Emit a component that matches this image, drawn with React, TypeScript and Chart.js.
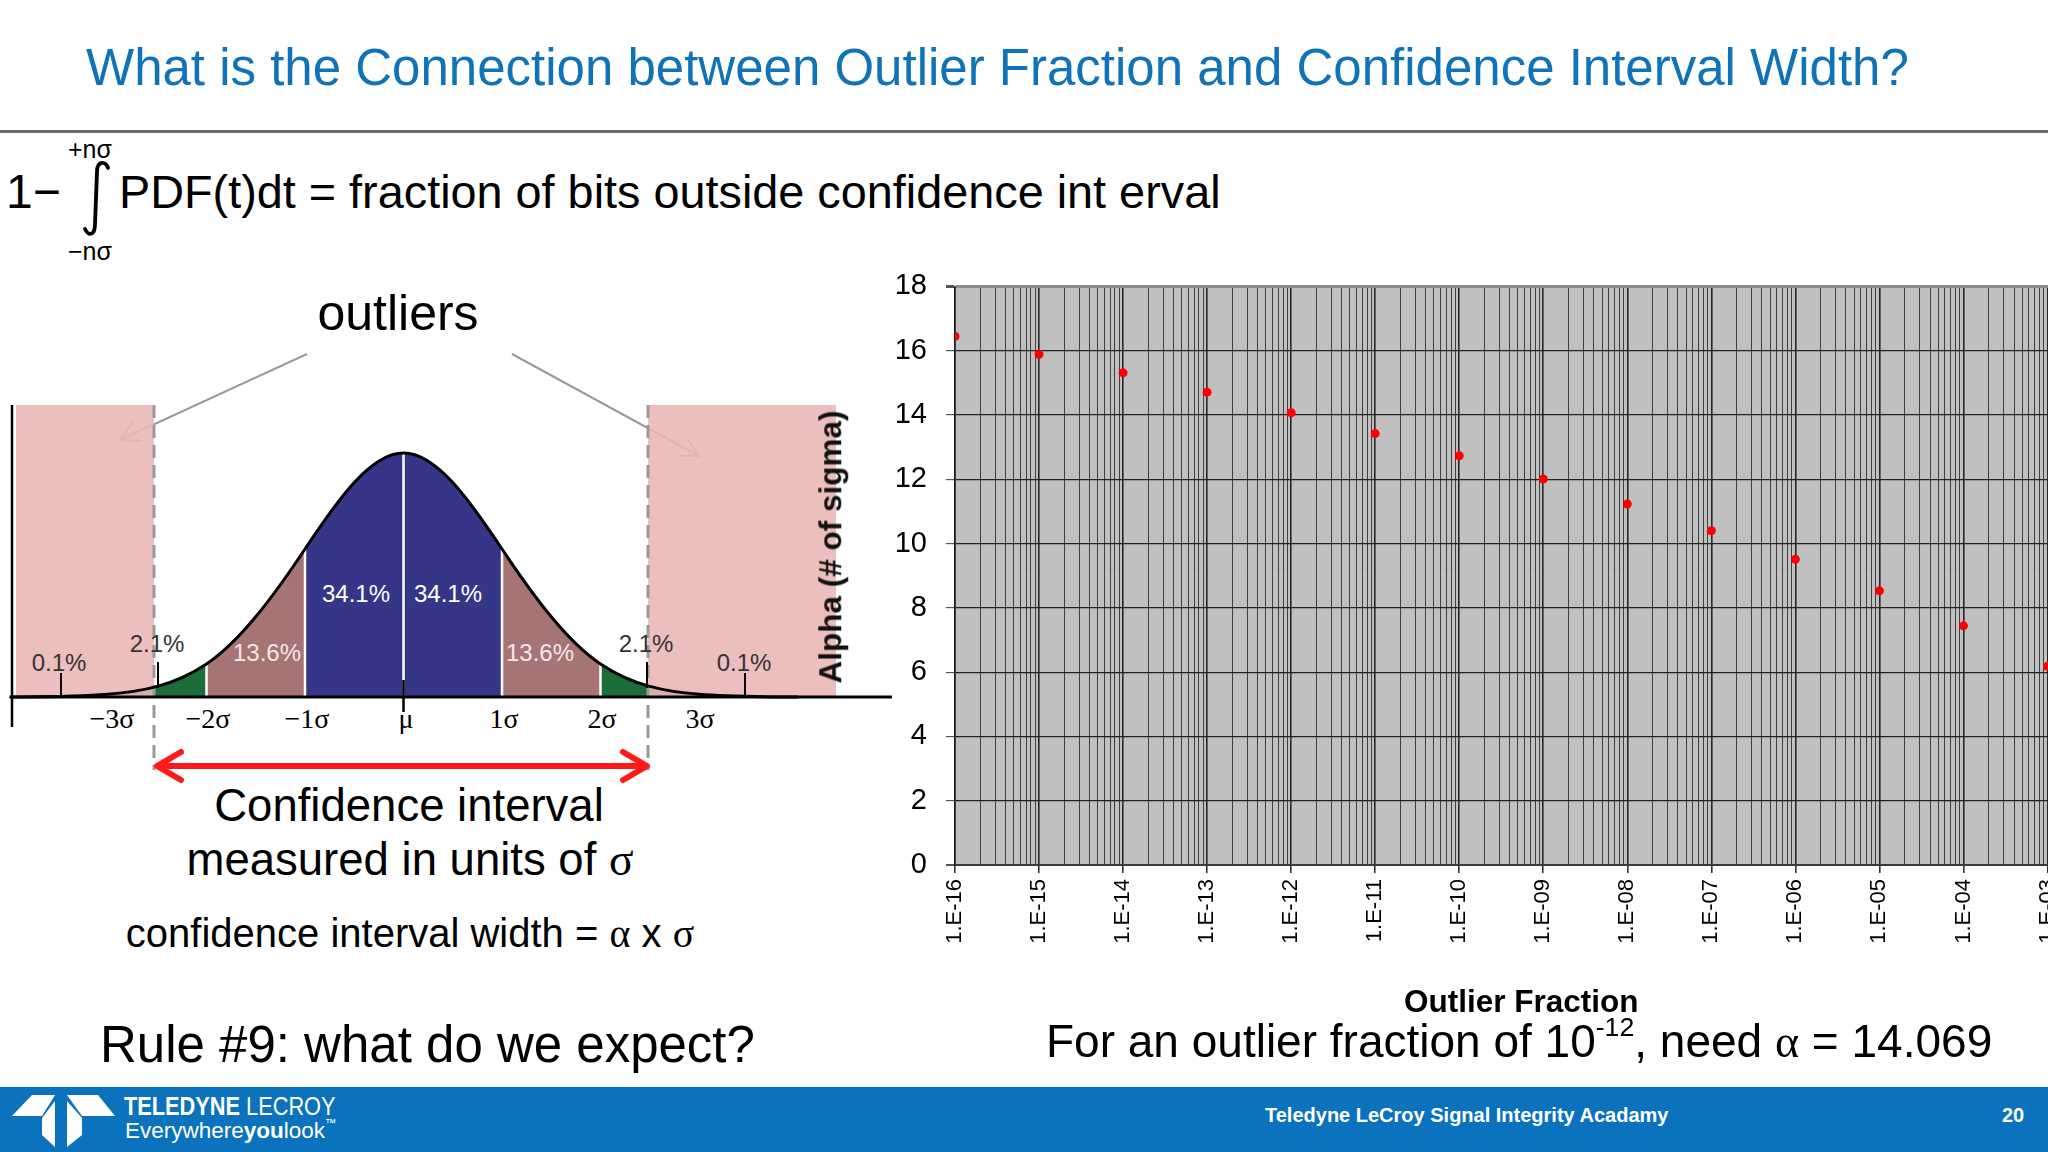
import React, { useEffect, useRef } from "react";
import { Chart, registerables } from "chart.js";

Chart.register(...registerables);

// ---------- data ----------
const outlierFraction = [1e-16, 1e-15, 1e-14, 1e-13, 1e-12, 1e-11, 1e-10, 1e-9, 1e-8, 1e-7, 1e-6, 1e-5, 1e-4, 1e-3];
const alphaSigma = [16.45, 15.89, 15.31, 14.71, 14.07, 13.42, 12.73, 12.01, 11.23, 10.4, 9.51, 8.53, 7.44, 6.18];
const xTickLabels = ["1.E-16", "1.E-15", "1.E-14", "1.E-13", "1.E-12", "1.E-11", "1.E-10", "1.E-09", "1.E-08", "1.E-07", "1.E-06", "1.E-05", "1.E-04", "1.E-03"];
const gridDecades = [1e-16, 1e-15, 1e-14, 1e-13, 1e-12, 1e-11, 1e-10, 1e-9, 1e-8, 1e-7, 1e-6, 1e-5, 1e-4, 1e-3];
const minorMultipliers = [2, 3, 4, 5, 6, 7, 8, 9];
const X_MIN = 1e-16;
const X_MAX = 3e-3;
const Y_MIN = 0;
const Y_MAX = 18;
const Y_STEP = 2;

const SANS = "'Liberation Sans', Arial, Helvetica, sans-serif";
const SERIF = "'Liberation Serif', 'Times New Roman', Times, serif";

type TProps = {
  x: number;
  y: number;
  size: number;
  align?: "left" | "center" | "right";
  weight?: number;
  color?: string;
  family?: string;
  scaleX?: number;
  style?: React.CSSProperties;
  children?: React.ReactNode;
};

function T({ x, y, size, align = "left", weight = 400, color = "#000", family = SANS, scaleX = 1, style, children }: TProps) {
  const tx = align === "center" ? "-50%" : align === "right" ? "-100%" : "0";
  const origin = align === "center" ? "center" : align === "right" ? "right" : "left";
  return (
    <div
      style={{
        position: "absolute",
        left: x,
        top: y - 0.8465 * size,
        fontSize: size,
        lineHeight: 1,
        fontFamily: family,
        fontWeight: weight,
        color,
        whiteSpace: "nowrap",
        transform: `translateX(${tx}) scaleX(${scaleX})`,
        transformOrigin: origin,
        ...style,
      }}
    >
      {children}
    </div>
  );
}

const bgPlugin = {
  id: "plotBg",
  beforeDraw(chart: any) {
    const { ctx, chartArea } = chart;
    if (!chartArea) return;
    ctx.save();
    ctx.fillStyle = "#c0c0c0";
    ctx.fillRect(chartArea.left, chartArea.top, chartArea.right - chartArea.left, chartArea.bottom - chartArea.top);
    ctx.restore();
  },
};

function ScatterChart() {
  const ref = useRef<HTMLCanvasElement | null>(null);
  useEffect(() => {
    if (!ref.current) return;
    const points = outlierFraction.map((f, i) => ({ x: f, y: alphaSigma[i] }));
    const chart = new Chart(ref.current, {
      type: "scatter",
      data: {
        datasets: [
          {
            data: points,
            backgroundColor: "#ff0000",
            borderWidth: 0,
            pointRadius: 4.5,
            pointHoverRadius: 4.5,
          },
        ],
      },
      options: {
        animation: false,
        responsive: false,
        devicePixelRatio: 1,
        events: [],
        layout: { padding: { top: 36, left: 0, right: 0, bottom: 0 } },
        plugins: { legend: { display: false }, tooltip: { enabled: false } },
        scales: {
          x: {
            type: "logarithmic",
            min: X_MIN,
            max: X_MAX,
            afterBuildTicks: (scale: any) => {
              const ticks: any[] = [];
              gridDecades.forEach((d) => {
                ticks.push({ value: d, major: true });
                minorMultipliers.forEach((m) => {
                  const v = d * m;
                  if (v <= X_MAX) ticks.push({ value: v, major: false });
                });
              });
              scale.ticks = ticks.filter((t) => t.value >= X_MIN && t.value <= X_MAX);
            },
            afterFit: (scale: any) => {
              scale.height = 175;
            },
            ticks: {
              autoSkip: false,
              minRotation: 90,
              maxRotation: 90,
              padding: 6,
              color: "#000",
              font: { family: SANS, size: 22 },
              callback: (value: any) => {
                const v = Number(value);
                const i = outlierFraction.findIndex((f) => Math.abs(Math.log10(f) - Math.log10(v)) < 1e-6);
                return i >= 0 ? xTickLabels[i] : "";
              },
            },
            grid: {
              color: (ctx: any) => (ctx.tick && ctx.tick.major ? "#262626" : "#3e3e3e"),
              lineWidth: (ctx: any) => (ctx.tick && ctx.tick.major ? 1.6 : 1),
              tickColor: (ctx: any) => (ctx.tick && ctx.tick.major ? "#333" : "rgba(0,0,0,0)"),
              tickLength: 8,
              drawTicks: true,
            },
            border: { display: true, color: "#3a3a3a", width: 2 },
            title: {
              display: true,
              text: "Outlier Fraction",
              color: "#000",
              font: { family: SANS, size: 31.5, weight: "bold" },
              padding: { top: 0, bottom: 18 },
            },
          },
          y: {
            type: "linear",
            min: Y_MIN,
            max: Y_MAX,
            afterFit: (scale: any) => {
              scale.width = 155;
            },
            ticks: {
              stepSize: Y_STEP,
              padding: 19,
              color: "#000",
              font: { family: SANS, size: 29 },
            },
            grid: {
              color: (ctx: any) => {
                const v = ctx.tick ? ctx.tick.value : 0;
                if (v === Y_MAX) return "#8a8a8a";
                if (v === Y_MIN) return "#3a3a3a";
                return "#222222";
              },
              lineWidth: (ctx: any) => {
                const v = ctx.tick ? ctx.tick.value : 0;
                if (v === Y_MAX) return 3;
                if (v === Y_MIN) return 2;
                return 1.2;
              },
              tickColor: "#555",
              tickLength: 9,
            },
            border: { display: true, color: "#1a1a1a", width: 1.5 },
          },
        },
      },
      plugins: [bgPlugin],
    } as any);
    return () => chart.destroy();
  }, []);
  return (
    <canvas
      ref={ref}
      width={1320}
      height={790}
      style={{ position: "absolute", left: 800, top: 250, width: 1320, height: 790 }}
    />
  );
}

function BellIllustration() {
  const bell =
    "M 9.5 697 C 42.3 696.8, 75.2 697, 108 694.3 C 140.8 691.6, 173.7 686, 206.5 664 C 239.3 642, 272.2 598.4, 305 549 C 337.8 499.7, 370.7 453, 403.5 453 C 436.3 453, 469.2 499.7, 502 549 C 534.8 598.4, 567.7 642, 600.5 664 C 633.3 686, 666.2 691.6, 699 694.3 C 731.8 697, 764.7 696.8, 797.5 697";
  return (
    <svg width={2048} height={1152} style={{ position: "absolute", left: 0, top: 0 }}>
      <defs>
        <clipPath id="bellClip">
          <path d={bell + " L 797.5 698 L 9.5 698 Z"} />
        </clipPath>
      </defs>
      {/* outlier arrows */}
      <g stroke="#9a9a9a" strokeWidth={2} fill="none">
        <line x1={307} y1={354} x2={120} y2={440} />
        <polyline points="133,422 120,440 142,441" />
        <line x1={512} y1={354} x2={699} y2={456} />
        <polyline points="687,438 699,456 677,456" />
      </g>
      {/* bell fills */}
      <g clipPath="url(#bellClip)">
        <rect x={0} y={430} width={206.5} height={270} fill="#1b6d39" />
        <rect x={600.5} y={430} width={210} height={270} fill="#1b6d39" />
        <rect x={206.5} y={430} width={98.5} height={270} fill="#a67474" />
        <rect x={502} y={430} width={98.5} height={270} fill="#a67474" />
        <rect x={305} y={430} width={197} height={270} fill="#363689" />
        <g stroke="#ffffff" strokeWidth={2.5}>
          <line x1={206.5} y1={430} x2={206.5} y2={700} />
          <line x1={305} y1={430} x2={305} y2={700} />
          <line x1={403.5} y1={430} x2={403.5} y2={700} />
          <line x1={502} y1={430} x2={502} y2={700} />
          <line x1={600.5} y1={430} x2={600.5} y2={700} />
        </g>
      </g>
      {/* outlier regions */}
      <rect x={16} y={405} width={138} height={292} fill="#ebb7b7" opacity={0.9} />
      <rect x={648} y={405} width={188} height={292} fill="#ebb7b7" opacity={0.9} />
      {/* dashed confidence limits */}
      <g stroke="#9a9a9a" strokeWidth={3} strokeDasharray="13 7">
        <line x1={154} y1={405} x2={154} y2={770} />
        <line x1={648} y1={405} x2={648} y2={770} />
      </g>
      {/* curve */}
      <path d={bell} fill="none" stroke="#000" strokeWidth={3} />
      {/* axes */}
      <line x1={12} y1={697} x2={892} y2={697} stroke="#000" strokeWidth={3} />
      <line x1={12} y1={405} x2={12} y2={727} stroke="#000" strokeWidth={2.5} />
      <g stroke="#000" strokeWidth={2}>
        <line x1={61} y1={673} x2={61} y2={696} />
        <line x1={745} y1={673} x2={745} y2={696} />
        <line x1={158} y1={662} x2={158} y2={688} />
        <line x1={647} y1={662} x2={647} y2={688} />
        <line x1={403.5} y1={680} x2={403.5} y2={712} strokeWidth={2.5} />
      </g>
      {/* red double arrow */}
      <g stroke="#ff1a1a" strokeWidth={6} fill="none" strokeLinecap="round" strokeLinejoin="round">
        <line x1={160} y1={766} x2={643} y2={766} />
        <polyline points="181,752 157,766 181,780" />
        <polyline points="623,752 647,766 623,780" />
      </g>
      {/* integral sign */}
      <path
        d="M 108 168 C 106 161, 97 160, 97 172 L 95 224 C 95 235, 89 237, 85 229"
        fill="none"
        stroke="#000"
        strokeWidth={3.8}
        strokeLinecap="round"
      />
      {/* footer */}
      <rect x={0} y={1087} width={2048} height={65} fill="#0b72bd" />
      <g fill="#ffffff">
        <polygon points="12,1116 32,1095 55,1095 42,1116" />
        <polygon points="67,1095 98,1095 115,1116 82,1116" />
        <polygon points="42,1118 55,1101 55,1147 42,1135" />
        <polygon points="67,1101 82,1118 82,1135 67,1147" />
      </g>
    </svg>
  );
}

export default function App() {
  return (
    <div
      style={{
        position: "fixed",
        left: 0,
        top: 0,
        width: 2048,
        height: 1152,
        overflow: "hidden",
        background: "#ffffff",
        fontFamily: SANS,
      }}
    >
      <BellIllustration />
      <ScatterChart />

      {/* title */}
      <T x={86} y={85} size={51} color="#0f73ba">
        What is the Connection between Outlier Fraction and Confidence Interval Width?
      </T>
      <div style={{ position: "absolute", left: 0, top: 130, width: 2048, height: 2.5, background: "#6b6b6b" }} />

      {/* formula */}
      <T x={6} y={209} size={48}>1−</T>
      <T x={119} y={209} size={46.8}>PDF(t)dt = fraction of bits outside confidence int erval</T>
      <T x={68} y={158} size={25}>+nσ</T>
      <T x={68} y={260} size={25}>−nσ</T>

      {/* illustration texts */}
      <T x={398} y={330} size={50} align="center">outliers</T>
      <T x={356} y={602} size={24} align="center" color="#ffffff">34.1%</T>
      <T x={448} y={602} size={24} align="center" color="#ffffff">34.1%</T>
      <T x={267} y={661} size={24} align="center" color="#f6e6e6">13.6%</T>
      <T x={540} y={661} size={24} align="center" color="#f6e6e6">13.6%</T>
      <T x={157} y={652} size={24} align="center" color="#333">2.1%</T>
      <T x={646} y={652} size={24} align="center" color="#333">2.1%</T>
      <T x={59} y={671} size={24} align="center" color="#333">0.1%</T>
      <T x={744} y={671} size={24} align="center" color="#333">0.1%</T>
      <T x={112} y={729} size={28} align="center" family={SERIF}>−3σ</T>
      <T x={208} y={729} size={28} align="center" family={SERIF}>−2σ</T>
      <T x={307} y={729} size={28} align="center" family={SERIF}>−1σ</T>
      <T x={406} y={729} size={28} align="center" family={SERIF}>μ</T>
      <T x={504} y={729} size={28} align="center" family={SERIF}>1σ</T>
      <T x={602} y={729} size={28} align="center" family={SERIF}>2σ</T>
      <T x={700} y={729} size={28} align="center" family={SERIF}>3σ</T>

      <T x={409} y={822} size={45.5} align="center">Confidence interval</T>
      <T x={410} y={876} size={45.5} align="center">
        measured in units of <span style={{ fontFamily: SERIF }}>σ</span>
      </T>
      <T x={410} y={947} size={40} align="center">
        confidence interval width = <span style={{ fontFamily: SERIF }}>α</span> x <span style={{ fontFamily: SERIF }}>σ</span>
      </T>
      <T x={100} y={1062} size={51}>Rule #9: what do we expect?</T>

      {/* y axis title */}
      <div
        style={{
          position: "absolute",
          left: 831,
          top: 547,
          transform: "translate(-50%, -50%) rotate(-90deg)",
          fontFamily: SANS,
          fontWeight: 700,
          fontSize: 31.5,
          lineHeight: 1,
          whiteSpace: "nowrap",
          color: "#111",
        }}
      >
        Alpha (# of sigma)
      </div>

      <T x={1046} y={1057} size={46}>
        For an outlier fraction of 10
        <span style={{ fontSize: "0.58em", position: "relative", top: "-0.8em" }}>-12</span>, need{" "}
        <span style={{ fontFamily: SERIF }}>α</span> = 14.069
      </T>

      {/* footer texts */}
      <T x={124} y={1115} size={25} color="#fff" scaleX={0.87}>
        <span style={{ fontWeight: 700 }}>TELEDYNE</span> LECROY
      </T>
      <T x={125} y={1139} size={22.5} color="#fff">
        Everywhere<span style={{ fontWeight: 700 }}>you</span>look
        <span style={{ fontSize: "0.5em", position: "relative", top: "-1em" }}>™</span>
      </T>
      <T x={1265} y={1122} size={20} weight={700} color="#fff">
        Teledyne LeCroy Signal Integrity Acadamy
      </T>
      <T x={2013} y={1122} size={20} weight={700} color="#fff" align="center">
        20
      </T>
    </div>
  );
}
